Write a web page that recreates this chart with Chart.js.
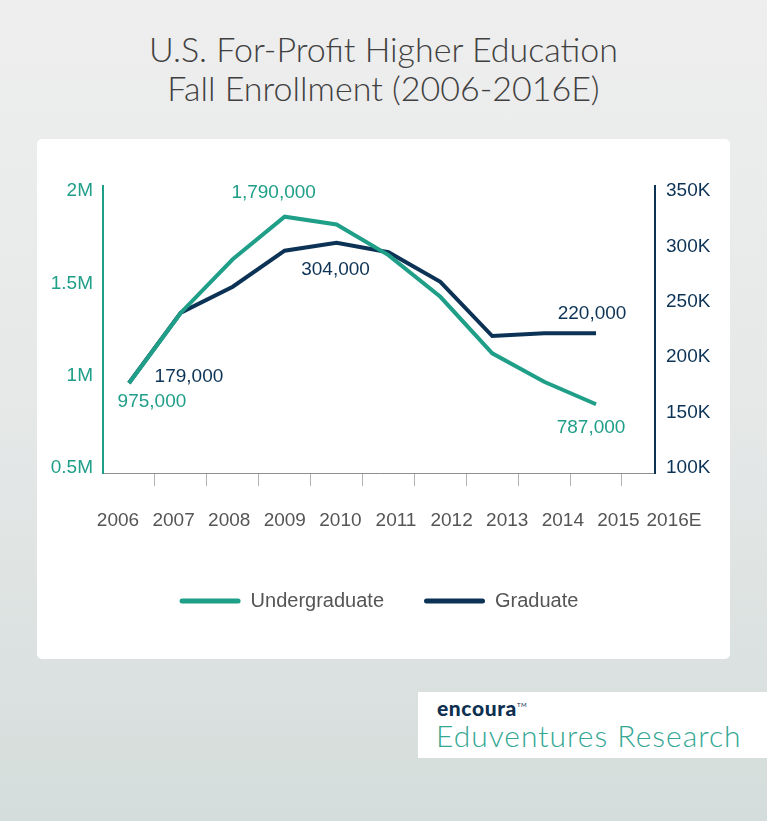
<!DOCTYPE html>
<html>
<head>
<meta charset="utf-8">
<script src="https://cdn.jsdelivr.net/npm/chart.js@4.4.1/dist/chart.umd.min.js"></script>
<style>
  html, body { margin: 0; padding: 0; }
  body {
    width: 767px; height: 821px; position: relative; overflow: hidden;
    background: linear-gradient(to bottom, #eeeeee 0%, #e6e8e8 50%, #d4dddb 100%);
    font-family: 'Liberation Sans', Arial, sans-serif;
  }
  #title {
    position: absolute; left: 0; top: 29px; width: 767px; text-align: center;
    font-family: Lato, 'Open Sans', sans-serif; font-weight: 300;
    font-size: 34px; line-height: 39px; color: #404040;
  }
  #card {
    position: absolute; left: 37px; top: 139px; width: 693px; height: 520px;
    background: #ffffff; border-radius: 5px;
  }
  #logo {
    position: absolute; left: 418px; top: 692px; width: 349px; height: 66px;
    background: #ffffff;
  }
  #logo .brand {
    position: absolute; left: 19px; top: 3px;
    font-family: Lato, 'Open Sans', sans-serif; font-weight: 900;
    font-size: 21px; color: #0d2f50; letter-spacing: 0.6px;
  }
  #logo .brand sup { font-size: 6px; font-weight: 400; vertical-align: 9px; }
  #logo .sub {
    position: absolute; left: 18px; top: 25px;
    font-family: Lato, 'Open Sans', sans-serif; font-weight: 300;
    font-size: 30px; color: #35a894; letter-spacing: 1px; white-space: nowrap;
  }
  #chart { position: absolute; left: 0; top: 0; }
</style>
</head>
<body>
<div id="title">U.S. For-Profit Higher Education<br>Fall Enrollment (2006-2016E)</div>
<div id="card"></div>
<div id="logo"><div class="brand">encoura<sup>TM</sup></div><div class="sub">Eduventures Research</div></div>
<canvas id="chart" width="767" height="821"></canvas>
<script>
// ---- data ----
const years = ['2006', '2007', '2008', '2009', '2010', '2011', '2012', '2013', '2014', '2015', '2016E'];
const undergraduate = [959000, 1341000, 1630000, 1861000, 1819000, 1653000, 1427000, 1121000, 967000, 845000, null];
const graduate = [176700, 240200, 263600, 296100, 303300, 294700, 268100, 219100, 221600, 221600, null];
const leftTicks = [500000, 1000000, 1500000, 2000000];
const leftTickLabels = ['0.5M', '1M', '1.5M', '2M'];
const rightTicks = [100000, 150000, 200000, 250000, 300000, 350000];
const rightTickLabels = ['100K', '150K', '200K', '250K', '300K', '350K'];
// annotated values shown on the chart (index -> value)
const undergraduateCallouts = { 0: 975000, 3: 1790000, 9: 787000 };
const graduateCallouts = { 0: 179000, 4: 304000, 9: 220000 };

// ---- styles ----
const TEAL = '#1f9e88';
const NAVY = '#0c3356';
const FONT = "'Liberation Sans', Arial, sans-serif";
// label offsets relative to the point (style only)
const calloutOffsets = {
  0: { 0: [23, 19], 3: [-11, -24], 9: [-5, 23] },
  1: { 0: [60, -6], 4: [-1, 27], 9: [-4, -20] }
};

const toPoints = arr => arr.map((v, i) => ({ x: i, y: v })).filter(p => p.y !== null);

const calloutPlugin = {
  id: 'callouts',
  afterDatasetsDraw(chart) {
    const ctx = chart.ctx;
    const sets = [undergraduateCallouts, graduateCallouts];
    const colors = [TEAL, NAVY];
    ctx.save();
    ctx.font = '19px ' + FONT;
    ctx.textAlign = 'center';
    ctx.textBaseline = 'middle';
    sets.forEach((set, ds) => {
      const meta = chart.getDatasetMeta(ds);
      Object.keys(set).forEach(k => {
        const idx = +k;
        const pt = meta.data[idx];
        if (!pt) return;
        const off = calloutOffsets[ds][idx];
        ctx.fillStyle = colors[ds];
        ctx.fillText(set[k].toLocaleString('en-US'), pt.x + off[0], pt.y + off[1]);
      });
    });
    ctx.restore();
  }
};

new Chart(document.getElementById('chart'), {
  type: 'line',
  data: {
    datasets: [
      {
        label: 'Undergraduate', data: toPoints(undergraduate), yAxisID: 'yL',
        borderColor: TEAL, backgroundColor: TEAL, borderWidth: 4,
        pointRadius: 0, pointHoverRadius: 0, tension: 0
      },
      {
        label: 'Graduate', data: toPoints(graduate), yAxisID: 'yR',
        borderColor: NAVY, backgroundColor: NAVY, borderWidth: 4,
        pointRadius: 0, pointHoverRadius: 0, tension: 0
      }
    ]
  },
  options: {
    responsive: false, animation: false, devicePixelRatio: 1, events: [],
    layout: { padding: { left: 37, right: 37, top: 186, bottom: 200 } },
    scales: {
      x: {
        type: 'linear', position: 'bottom', weight: 0,
        min: -0.5, max: 10.136, bounds: 'data',
        afterBuildTicks: s => { s.ticks = years.slice(0, 10).map((_, i) => ({ value: i + 0.5 })); },
        afterFit: s => { s.height = 13; },
        grid: { display: true, drawOnChartArea: false, drawTicks: true, tickLength: 13, color: '#b3b3b3', lineWidth: 1 },
        border: { display: true, color: '#8f8f8f', width: 1 },
        ticks: { display: false }
      },
      xl: {
        type: 'linear', position: 'bottom', weight: 1,
        min: -0.2698, max: 9.658, bounds: 'data',
        afterBuildTicks: s => { s.ticks = years.map((_, i) => ({ value: i })); },
        afterFit: s => { s.height = 65; },
        grid: { display: false, drawTicks: false },
        border: { display: false },
        ticks: {
          autoSkip: false, maxRotation: 0, padding: 23, color: '#555555',
          font: { family: FONT, size: 19 },
          callback: v => years[Math.round(v)]
        }
      },
      yL: {
        type: 'linear', position: 'left',
        min: 472900, max: 2027100, bounds: 'data',
        afterBuildTicks: s => { s.ticks = leftTicks.map(v => ({ value: v })); },
        afterFit: s => { s.width = 66; },
        grid: { display: false, drawTicks: false },
        border: { display: true, color: TEAL, width: 2 },
        ticks: {
          padding: 10, color: TEAL, font: { family: FONT, size: 19 },
          callback: v => leftTickLabels[leftTicks.indexOf(v)]
        }
      },
      yR: {
        type: 'linear', position: 'right',
        min: 95490, max: 354510, bounds: 'data',
        afterBuildTicks: s => { s.ticks = rightTicks.map(v => ({ value: v })); },
        afterFit: s => { s.width = 75; },
        grid: { display: false, drawTicks: false },
        border: { display: true, color: NAVY, width: 2 },
        ticks: {
          padding: 11, color: NAVY, font: { family: FONT, size: 19 },
          callback: v => rightTickLabels[rightTicks.indexOf(v)]
        }
      }
    },
    plugins: {
      tooltip: { enabled: false },
      title: { display: false },
      legend: {
        display: true, position: 'bottom', align: 'center', fullSize: false,
        labels: {
          boxWidth: 61, boxHeight: 5, padding: 40, color: '#555555',
          font: { family: FONT, size: 20 },
          useBorderRadius: true, borderRadius: 2.5,
          generateLabels: chart => Chart.defaults.plugins.legend.labels.generateLabels(chart)
            .map(l => Object.assign(l, { lineWidth: 0 }))
        }
      }
    }
  },
  plugins: [calloutPlugin]
});
</script>
</body>
</html>
